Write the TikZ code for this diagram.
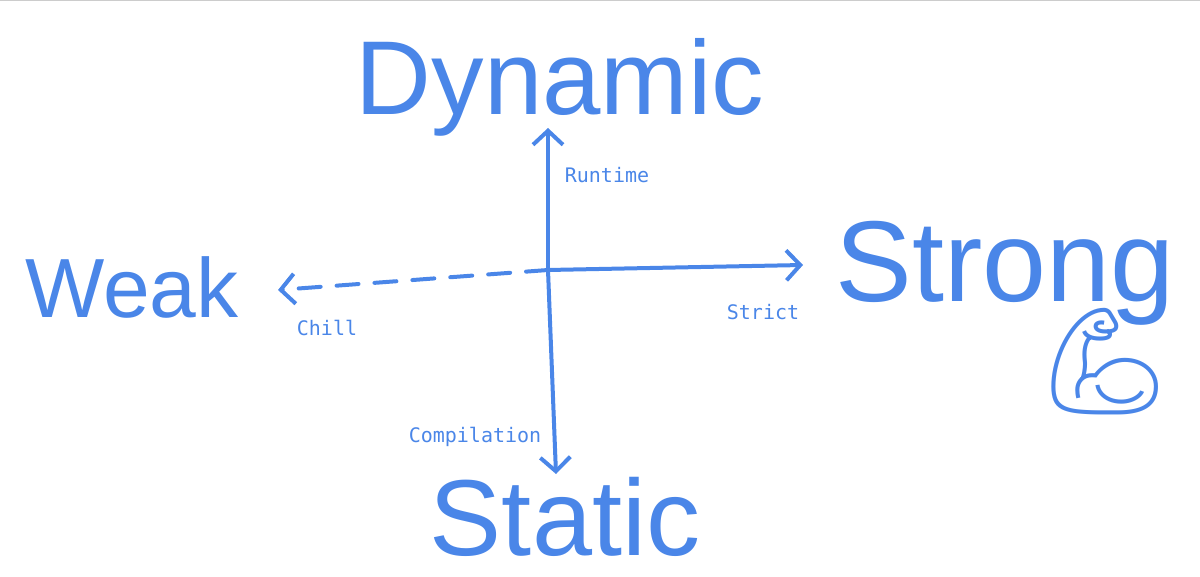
\documentclass[tikz,border=0pt]{standalone}
\usepackage{fontspec}
\setmainfont{Liberation Sans}
\newfontfamily\monof{DejaVu Sans Mono}
\newfontfamily\emo{Noto Emoji}
\usetikzlibrary{arrows.meta}
\definecolor{pen}{HTML}{4A86E8}
\tikzset{
  big/.style={text=pen, inner sep=0pt, anchor=base},
  lbl/.style={text=pen, font=\monof\fontsize{20}{20}\selectfont, inner sep=0pt},
  axis/.style={draw=pen, line width=4pt, line cap=round, -{Straight Barb[length=14pt,width=30pt,line width=4pt]}}
}
\begin{document}
\begin{tikzpicture}[x=1pt,y=-1pt]
\useasboundingbox (0,0) rectangle (1200,577);
\draw[gray!40, line width=2pt] (0,0) -- (1200,0);
\coordinate (o) at (548,270);
\node[big, font=\fontsize{105}{105}\selectfont] (dyn) at (560,115) {Dynamic};
\node[big, font=\fontsize{108}{108}\selectfont] (sta) at (565,555) {Static};
\node[big, font=\fontsize{84}{84}\selectfont] (weak) at (132,318) {Weak};
\node[big, font=\fontsize{115}{115}\selectfont] (str) at (1005,302) {Strong};
\node[text=pen, font=\emo\fontsize{105}{105}\selectfont, inner sep=0pt] (arm) at (1105,362) {💪};
\coordinate (top) at (548,128);
\coordinate (bot) at (556,474);
\coordinate (lft) at (278,290);
\coordinate (rgt) at (803,265);
\draw[axis] (o) -- (top);
\draw[axis] (o) -- (bot);
\draw[axis] (o) -- (rgt);
\draw[axis, dash pattern=on 22pt off 16pt] (o) -- (lft);
\node[lbl] (rt) at (607,175) {Runtime};
\node[lbl] (cp) at (475,437) {Compilation};
\node[lbl] (ch) at (327,328) {Chill};
\node[lbl] (st) at (763,312) {Strict};
\end{tikzpicture}
\end{document}
